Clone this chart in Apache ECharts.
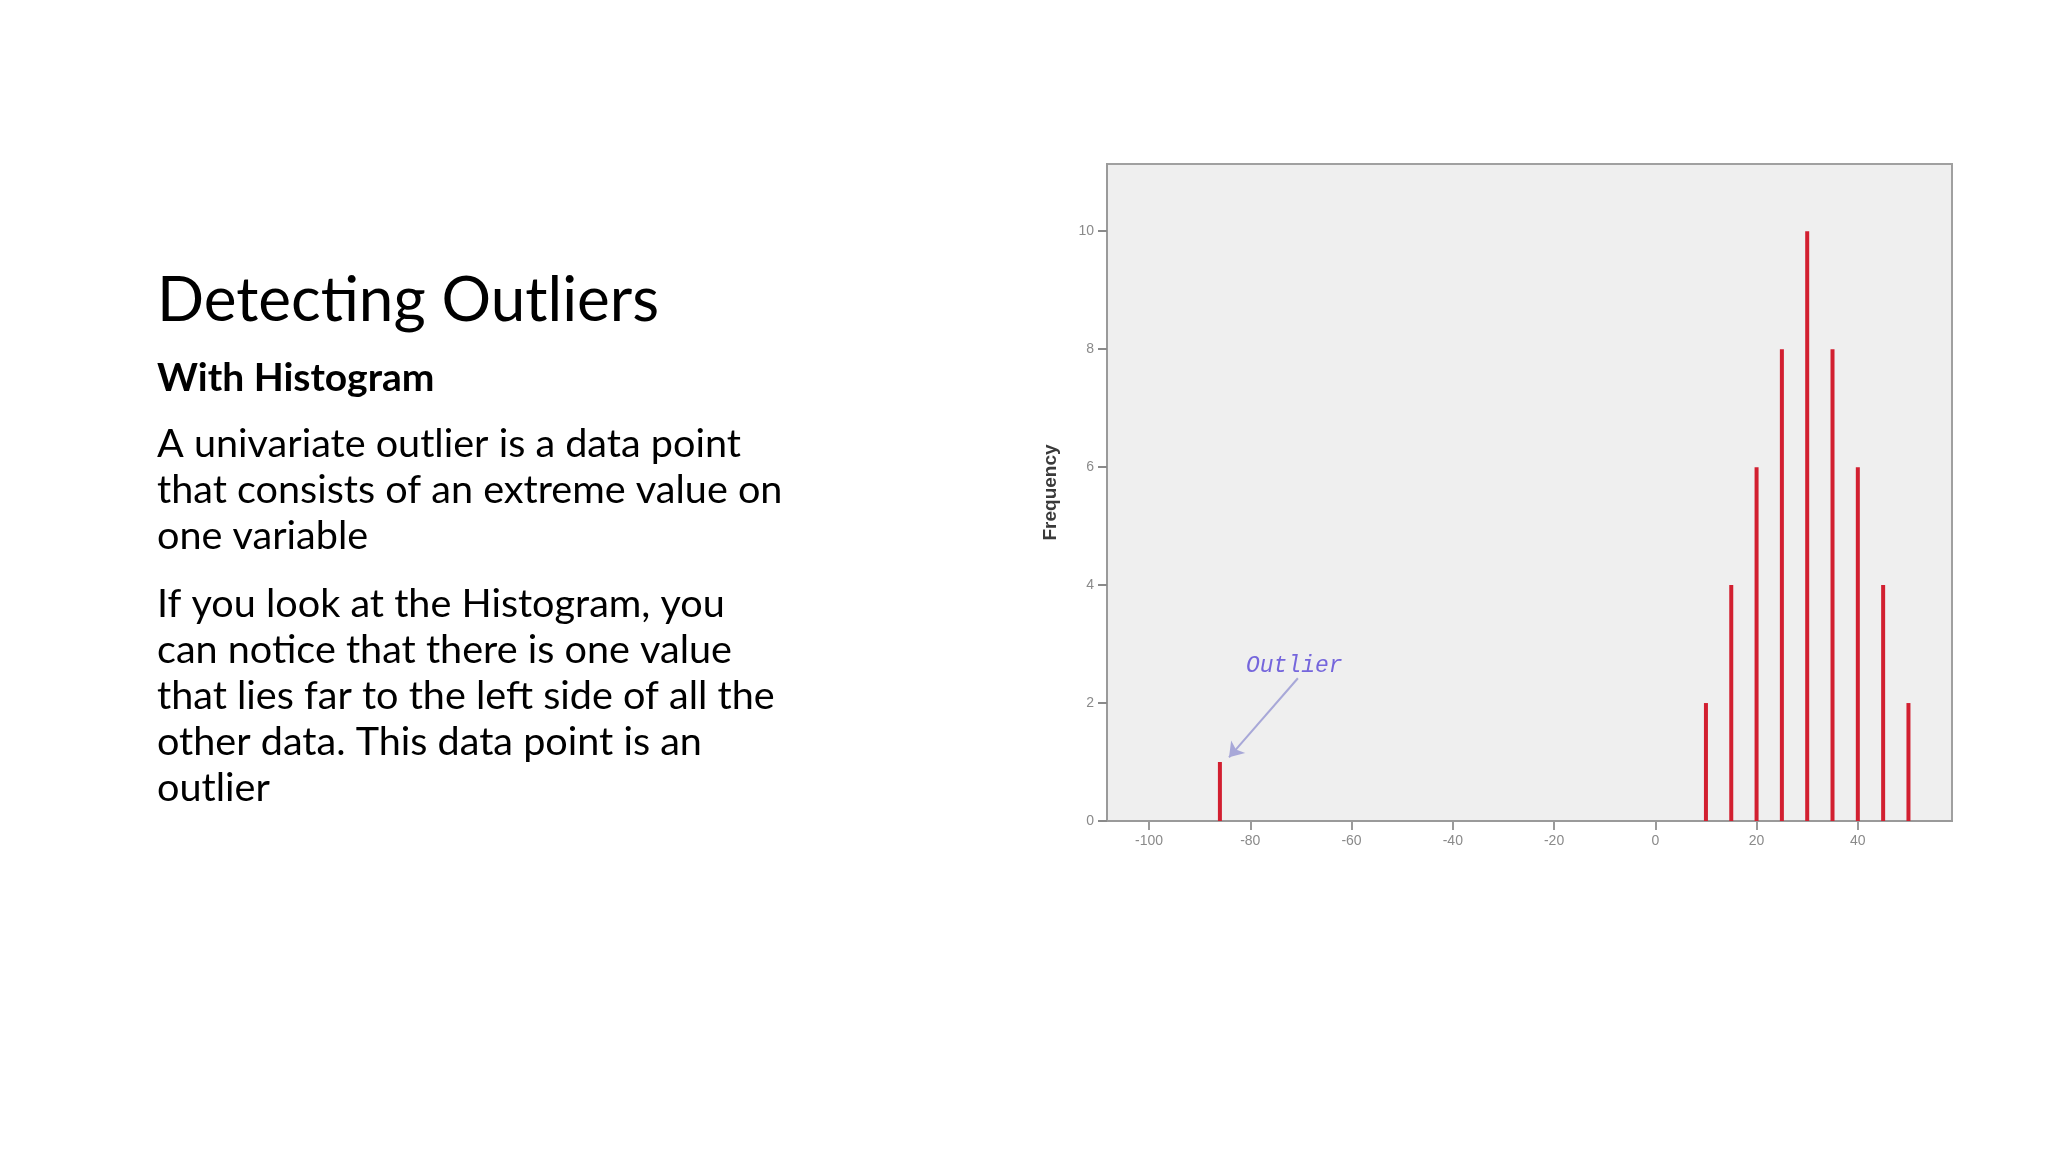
<!DOCTYPE html>
<html>
<head>
<meta charset="utf-8">
<script src="https://cdn.jsdelivr.net/npm/echarts@6/dist/echarts.min.js"></script>
<style>
html,body{margin:0;padding:0;background:#fff;}
#chart{width:2048px;height:1152px;}
</style>
</head>
<body>
<div id="chart"></div>
<script>
// ---- data ----
const binCenters = [-86, 10, 15, 20, 25, 30, 35, 40, 45, 50];
const frequencies = [1, 2, 4, 6, 8, 10, 8, 6, 4, 2];
const xTickValues = [-100, -80, -60, -40, -20, 0, 20, 40];
const yTickValues = [0, 2, 4, 6, 8, 10];
const annotationText = 'Outlier';
const annotationLabelAt = [-71.3, 2.63];
const annotationArrowFrom = [-70.6, 2.42];
const annotationArrowTo = [-84.2, 1.08];
const slideTitle = 'Detecting Outliers';
const slideSubtitle = 'With Histogram';
const paragraph1 = ['A univariate outlier is a data point', 'that consists of an extreme value on', 'one variable'];
const paragraph2 = ['If you look at the Histogram, you', 'can notice that there is one value', 'that lies far to the left side of all the', 'other data. This data point is an', 'outlier'];

const chart = echarts.init(document.getElementById('chart'), null, {renderer: 'canvas'});
const textFont = 'Lato, "Open Sans", sans-serif';

const option = {
  backgroundColor: '#ffffff',
  animation: false,
  grid: {
    left: 1107, top: 164, right: 96, bottom: 331,
    show: true, backgroundColor: '#efefef', borderColor: '#a0a0a0', borderWidth: 2
  },
  xAxis: {
    type: 'value', min: -108.3, max: 58.6,
    splitLine: {show: false},
    axisLine: {show: true, onZero: false, lineStyle: {color: '#9a9a9a', width: 2}},
    axisTick: {show: true, inside: false, length: 9, customValues: xTickValues, lineStyle: {color: '#9a9a9a', width: 2}},
    axisLabel: {customValues: xTickValues, color: '#8a8a8a', fontSize: 14, margin: 13, fontFamily: 'Liberation Sans, Arial, sans-serif'}
  },
  yAxis: {
    type: 'value', min: 0, max: 11.14,
    name: 'Frequency', nameLocation: 'middle', nameGap: 47, nameRotate: 90,
    nameTextStyle: {fontWeight: 'bold', fontSize: 19, color: '#3a3a3a', fontFamily: 'Liberation Sans, Arial, sans-serif'},
    splitLine: {show: false},
    axisLine: {show: true, onZero: false, lineStyle: {color: '#9a9a9a', width: 2}},
    axisTick: {show: true, inside: false, length: 9, customValues: yTickValues, lineStyle: {color: '#8a8a8a', width: 2}},
    axisLabel: {customValues: yTickValues, color: '#8a8a8a', fontSize: 14, margin: 13, fontFamily: 'Liberation Sans, Arial, sans-serif'}
  },
  series: [{
    type: 'bar',
    data: binCenters.map((x, i) => [x, frequencies[i]]),
    barWidth: 4,
    itemStyle: {color: '#d21f30'},
    markPoint: {
      symbol: 'circle', symbolSize: 0,
      label: {show: true, formatter: annotationText, color: '#7566dc', fontSize: 23, fontStyle: 'italic',
        fontFamily: '"Liberation Mono", "DejaVu Sans Mono", monospace', position: 'inside'},
      data: [{coord: annotationLabelAt}]
    },
    markLine: {
      silent: true, symbol: ['none', 'arrow'], symbolSize: 14,
      lineStyle: {color: '#a8a8d8', width: 2, type: 'solid'},
      label: {show: false},
      data: [[{coord: annotationArrowFrom}, {coord: annotationArrowTo}]]
    }
  }],
  graphic: [
    {type: 'text', left: 157, top: 270, style: {text: slideTitle, font: '400 62px ' + textFont, fill: '#000'}},
    {type: 'text', left: 157, top: 359, style: {text: slideSubtitle, font: '700 39px ' + textFont, fill: '#000'}},
    {type: 'text', left: 157, top: 421, style: {text: paragraph1.join('\n'), font: '400 39.6px ' + textFont, lineHeight: 46, fill: '#000'}},
    {type: 'text', left: 157, top: 581, style: {text: paragraph2.join('\n'), font: '400 39.6px ' + textFont, lineHeight: 46, fill: '#000'}}
  ]
};
chart.setOption(option);
</script>
</body>
</html>
